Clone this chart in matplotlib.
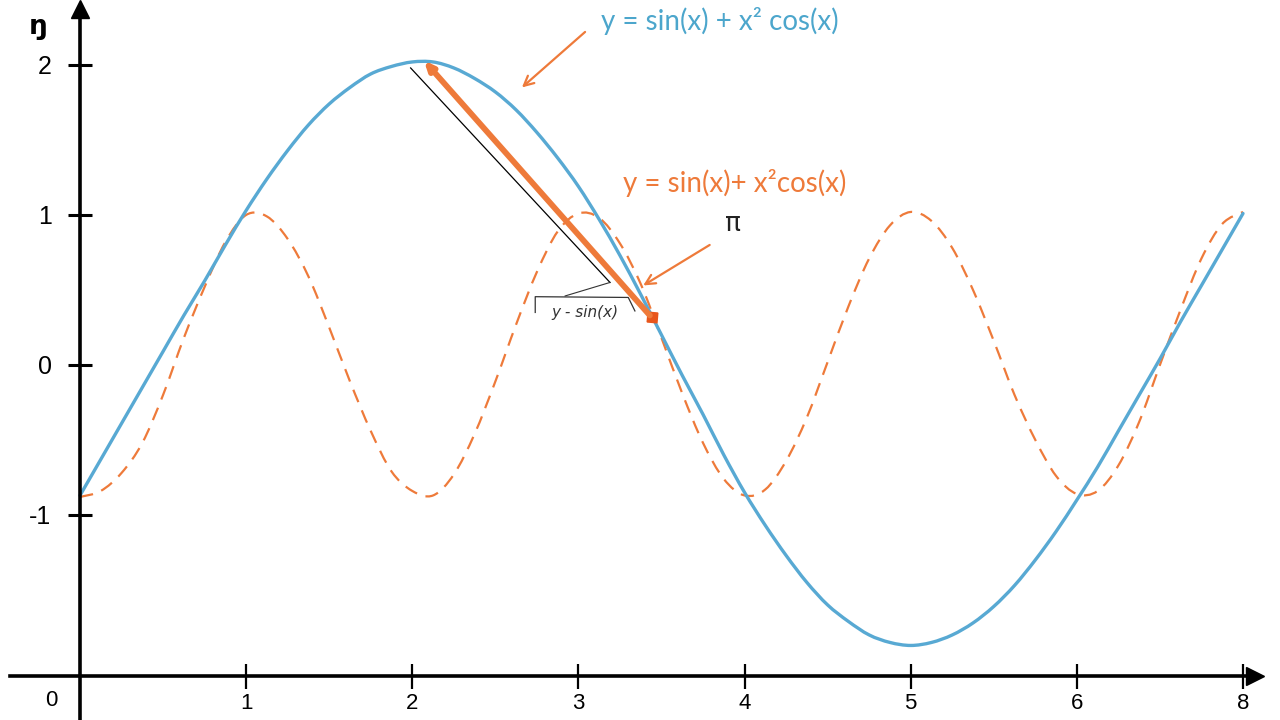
import numpy as np
import matplotlib.pyplot as plt
from matplotlib.path import Path
from matplotlib.patches import PathPatch

# values, x step 0.125
x_vals = np.arange(0, 7.0001, 0.125)

blue_y = [-0.87, -0.63, -0.39, -0.15, 0.09, 0.33, 0.56, 0.80,
          1.03, 1.24, 1.43, 1.60, 1.74, 1.85, 1.94, 1.99,
          2.02, 2.02, 1.98, 1.91, 1.82, 1.70, 1.55, 1.38,
          1.19, 0.97, 0.73, 0.47, 0.20, -0.07, -0.33, -0.60,
          -0.85, -1.07, -1.27, -1.45, -1.60, -1.71, -1.80, -1.85,
          -1.87, -1.85, -1.80, -1.72, -1.61, -1.47, -1.30, -1.11,
          -0.90, -0.68, -0.44, -0.20, 0.04, 0.29, 0.53, 0.77,
          1.01]

orange_y = [-0.88, -0.84, -0.72, -0.52, -0.20, 0.18, 0.52, 0.82,
            1.00, 0.99, 0.84, 0.59, 0.25, -0.11, -0.44, -0.71,
            -0.84, -0.87, -0.73, -0.46, -0.11, 0.27, 0.62, 0.89,
            1.01, 0.98, 0.81, 0.54, 0.18, -0.19, -0.52, -0.76,
            -0.87, -0.83, -0.64, -0.35, 0.02, 0.39, 0.71, 0.93,
            1.02, 0.96, 0.78, 0.50, 0.16, -0.20, -0.50, -0.74,
            -0.86, -0.84, -0.67, -0.38, 0.00, 0.37, 0.71, 0.94,
            1.02]

x_ticks = [1, 2, 3, 4, 5, 6, 7]
x_ticklabels = ['1', '2', '3', '4', '5', '6', '8']
y_ticks = [2, 1, 0, -1]
y_ticklabels = ['2', '1', '0', '-1']

label_top = 'y = sin(x) + x² cos(x)'
label_mid = 'y = sin(x)+ x²cos(x)'

blue = '#58A9D3'
orange = '#EE7A3A'


def smooth_path(xs, ys):
    # smooth curve through the read points (Catmull-Rom as cubic Bezier)
    p = np.column_stack([xs, ys])
    verts = [p[0]]
    codes = [Path.MOVETO]
    n = len(p)
    for i in range(n - 1):
        p0 = p[max(i - 1, 0)]
        p1 = p[i]
        p2 = p[i + 1]
        p3 = p[min(i + 2, n - 1)]
        verts += [p1 + (p2 - p0) / 6, p2 - (p3 - p1) / 6, p2]
        codes += [Path.CURVE4] * 3
    return Path(verts, codes)


fig = plt.figure(figsize=(12.8, 7.2), dpi=100)
ax = fig.add_axes([0, 0, 1, 1])
ax.set_xlim(-0.4815, 7.2227)
ax.set_ylim(-2.367, 2.433)

x_axis_y = -2.073

for side in ['top', 'right']:
    ax.spines[side].set_visible(False)
ax.spines['left'].set_position(('data', 0))
ax.spines['bottom'].set_position(('data', x_axis_y))
ax.spines['left'].set_linewidth(2.6)
ax.spines['bottom'].set_linewidth(2.6)
ax.spines['bottom'].set_bounds(-0.42, 7.05)
ax.spines['left'].set_bounds(-2.5, 2.36)
ax.plot(7.07, x_axis_y, marker='>', color='black', markersize=13, clip_on=False)
ax.plot(0, 2.37, marker='^', color='black', markersize=13, clip_on=False)

ax.set_xticks(x_ticks)
ax.set_xticklabels(x_ticklabels, family='Liberation Sans')
ax.set_yticks(y_ticks)
ax.set_yticklabels(y_ticklabels, family='Liberation Sans')
ax.tick_params(axis='x', direction='inout', length=18, width=1.6, pad=3, labelsize=16)
ax.tick_params(axis='y', direction='inout', length=17, width=2.2, pad=12, labelsize=18)
ax.text(-0.17, -2.17, '0', ha='center', va='top', fontsize=16, family='Liberation Sans')
ax.text(-0.25, 2.25, 'ŋ', ha='center', va='center', fontsize=19, fontweight='bold')

# curves
ax.add_patch(PathPatch(smooth_path(x_vals, orange_y), fill=False, edgecolor=orange,
                       lw=1.6, linestyle=(0, (6, 4))))
ax.add_patch(PathPatch(smooth_path(x_vals, blue_y), fill=False, edgecolor=blue,
                       lw=2.4, capstyle='round'))

# thin black guide line and its little label
ax.plot([1.99, 3.19], [1.98, 0.55], color='black', lw=0.9)
ax.plot([2.74, 2.74, 3.30, 3.34], [0.35, 0.455, 0.45, 0.36], color='#333333', lw=0.9)
ax.plot([2.92, 3.19], [0.46, 0.55], color='#333333', lw=0.8)
ax.text(3.04, 0.35, 'y - sin(x)', ha='center', va='center', fontsize=11,
        style='italic', color='#333333')

# thick orange arrow
ax.annotate('', xy=(2.07, 2.03), xytext=(3.43, 0.33),
            arrowprops=dict(arrowstyle='-|>,head_length=0.5,head_width=0.22',
                            color=orange, lw=4.2, shrinkA=0, shrinkB=0))
ax.plot(3.44, 0.32, marker=(4, 0, 40), color='#E8561C', markersize=10)

# labels with thin arrows
ax.text(3.85, 2.29, label_top, ha='center', va='center', fontsize=20,
        family='Lato', color='#4CA6CC')
ax.annotate('', xy=(2.66, 1.85), xytext=(3.04, 2.22),
            arrowprops=dict(arrowstyle='->,head_length=0.7,head_width=0.35',
                            color=orange, lw=1.6, shrinkA=0, shrinkB=0))

ax.text(3.94, 1.21, label_mid, ha='center', va='center', fontsize=20,
        family='Lato', color=orange)
ax.text(3.93, 0.94, 'π', ha='center', va='center', fontsize=19, color='#222222')
ax.annotate('', xy=(3.39, 0.53), xytext=(3.79, 0.80),
            arrowprops=dict(arrowstyle='->,head_length=0.7,head_width=0.35',
                            color=orange, lw=1.6, shrinkA=0, shrinkB=0))

fig.savefig('out.png', dpi=100)
